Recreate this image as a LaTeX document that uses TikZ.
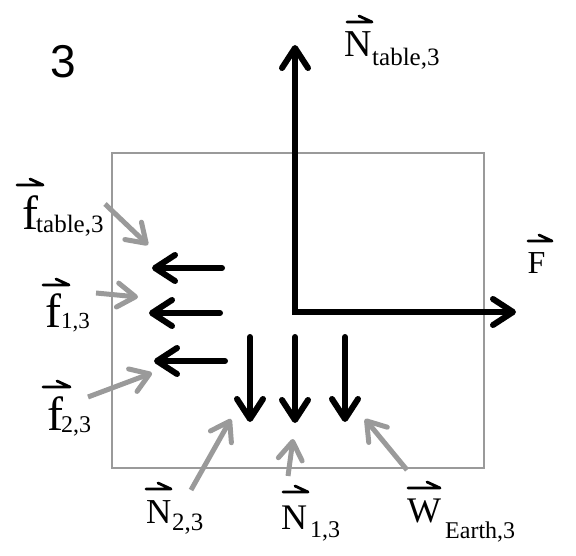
\documentclass[tikz,border=0pt]{standalone}
\usepackage{fontspec}
\setmainfont{Liberation Serif}
\newfontfamily\sansf{Liberation Sans}
\usetikzlibrary{arrows.meta}
\definecolor{gr}{HTML}{9A9A9A}
\begin{document}
\begin{tikzpicture}[x=1pt,y=-1pt,
  force/.style={line width=6pt,line cap=round,
    -{Straight Barb[length=20pt,width=26pt,line cap=round,line join=round]}},
  ptr/.style={line width=5pt,color=gr,
    -{Straight Barb[length=18pt,width=24pt,line cap=round,line join=round]}},
  harpl/.style={line width=2.8pt,line cap=round,line join=round},
  pics/harp/.style={code={\draw[harpl] (0,0) -- (#1,0) -- ++(-13,-6);}},
  lbl/.style={inner sep=0pt,anchor=base west}
]
\useasboundingbox (0,0) rectangle (576,556);
% block
\node[draw=gr,line width=2pt,minimum width=372pt,minimum height=315pt,inner sep=0pt,anchor=north west] (box) at (111,152) {};
% big forces
\coordinate (O) at (295,312);
\coordinate (Ntip) at (295,45);
\coordinate (Ftip) at (516,312);
\draw[force,line cap=butt] ([yshift=-3pt]O) -- (Ntip);
\draw[force,line cap=butt] ([xshift=-3pt]O) -- (Ftip);
% friction forces
\coordinate (a1s) at (222,268); \coordinate (a1e) at (152,268);
\coordinate (a2s) at (220,313); \coordinate (a2e) at (149,313);
\coordinate (a3s) at (225,361); \coordinate (a3e) at (154,361);
\draw[force] (a1s) -- (a1e);
\draw[force] (a2s) -- (a2e);
\draw[force] (a3s) -- (a3e);
% downward forces
\coordinate (d1s) at (250,337); \coordinate (d1e) at (250,422);
\coordinate (d2s) at (295,337); \coordinate (d2e) at (295,423);
\coordinate (d3s) at (345,337); \coordinate (d3e) at (345,422);
\draw[force] (d1s) -- (d1e);
\draw[force] (d2s) -- (d2e);
\draw[force] (d3s) -- (d3e);
% pointer arrows
\coordinate (g1s) at (105,204); \coordinate (g1e) at (148,245);
\coordinate (g2s) at (96,293);  \coordinate (g2e) at (138,297);
\coordinate (g3s) at (88,397);  \coordinate (g3e) at (152,373);
\coordinate (g4s) at (191,490); \coordinate (g4e) at (231,419);
\coordinate (g5s) at (288,476); \coordinate (g5e) at (293,439);
\coordinate (g6s) at (407,470); \coordinate (g6e) at (365,419);
\draw[ptr] (g1s) -- (g1e);
\draw[ptr] (g2s) -- (g2e);
\draw[ptr] (g3s) -- (g3e);
\draw[ptr] (g4s) -- (g4e);
\draw[ptr] (g5s) -- (g5e);
\draw[ptr] (g6s) -- (g6e);
% labels
\node[lbl,font=\sansf\fontsize{46}{46}\selectfont] (num) at (50,78) {3};
\node[lbl,font=\fontsize{38}{38}\selectfont] (Nt) at (344,57) {N};
\node[lbl,font=\fontsize{25}{25}\selectfont] (Nts) at (372,66) {table,3};
\pic at (347,22) {harp=25};
\node[lbl,font=\fontsize{32}{32}\selectfont] (F) at (527.5,274) {F};
\pic at (528,241) {harp=24};
\node[lbl,font=\fontsize{48}{48}\selectfont] (fT) at (22,230) {f};
\node[lbl,font=\fontsize{25}{25}\selectfont] (fTs) at (36,233) {table,3};
\pic at (17,185) {harp=26};
\node[lbl,font=\fontsize{48}{48}\selectfont] (f1) at (45,327) {f};
\node[lbl,font=\fontsize{23}{23}\selectfont] (f1s) at (61,328) {1,3};
\pic at (43,285) {harp=26};
\node[lbl,font=\fontsize{48}{48}\selectfont] (f2) at (47,430) {f};
\node[lbl,font=\fontsize{24}{24}\selectfont] (f2s) at (61,432) {2,3};
\pic at (43,387) {harp=27};
\node[lbl,font=\fontsize{35}{35}\selectfont] (N2) at (146,523) {N};
\node[lbl,font=\fontsize{25}{25}\selectfont] (N2s) at (172,530) {2,3};
\pic at (146,489) {harp=25};
\node[lbl,font=\fontsize{36}{36}\selectfont] (N1) at (281,529) {N};
\node[lbl,font=\fontsize{24}{24}\selectfont] (N1s) at (310,537) {1,3};
\pic at (283,492) {harp=25};
\node[lbl,font=\fontsize{36}{36}\selectfont] (W) at (407,522) {W};
\node[lbl,font=\fontsize{24}{24}\selectfont] (Ws) at (445,538) {Earth,3};
\pic at (408,488) {harp=32};
\end{tikzpicture}
\end{document}
